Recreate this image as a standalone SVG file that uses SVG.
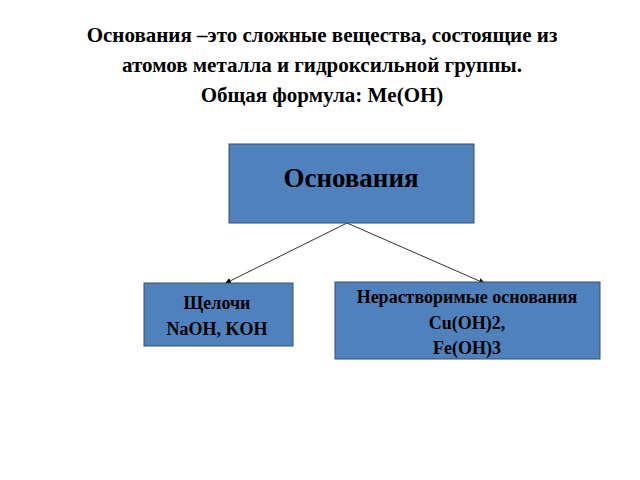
<svg xmlns="http://www.w3.org/2000/svg" width="640" height="480" viewBox="0 0 640 480">
<style>
.t{font-family:"Liberation Serif",serif;font-weight:bold;fill:#000;text-anchor:middle}
.b{fill:#4f81bd;stroke:#3a4f66;stroke-width:1}
.c{stroke:#333;stroke-width:1;fill:none}
</style>
<defs><marker id="a" markerWidth="6" markerHeight="6" refX="5" refY="3" orient="auto"><path d="M0,0L6,3L0,6z" fill="#000"/></marker></defs>
<rect width="640" height="480" fill="#fff"/>
<text class="t" font-size="21" x="322" y="42">Основания –это  сложные вещества, состоящие из</text>
<text class="t" font-size="21" x="322" y="72">атомов металла и  гидроксильной группы.</text>
<text class="t" font-size="21" x="322" y="102">Общая формула:  Me(OH)</text>
<g id="connectors">
<line class="c" x1="347" y1="223" x2="226" y2="283" marker-end="url(#a)"/>
<line class="c" x1="347" y1="223" x2="484" y2="283" marker-end="url(#a)"/>
</g>
<g id="root"><rect class="b" x="229" y="144" width="245" height="79"/>
<text class="t" font-size="27" x="351" y="187">Основания</text></g>
<g id="alkali"><rect class="b" x="144" y="283" width="149" height="63"/>
<text class="t" font-size="18" x="217" y="309">Щелочи</text>
<text class="t" font-size="18" x="217" y="335">NaOH, KOH</text></g>
<g id="insoluble"><rect class="b" x="335" y="282" width="265" height="77"/>
<text class="t" font-size="18" x="467" y="303">Нерастворимые основания</text>
<text class="t" font-size="18" x="467" y="329">Cu(OH)2,</text>
<text class="t" font-size="18" x="467" y="354">Fe(OH)3</text></g>
</svg>
